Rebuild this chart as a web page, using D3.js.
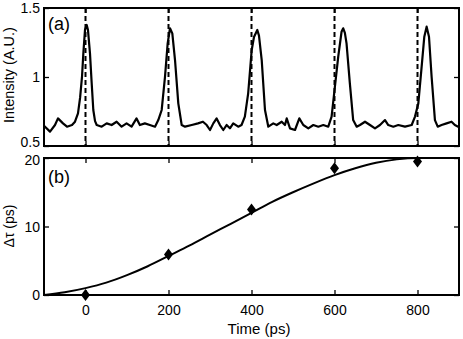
<!DOCTYPE html>
<html><head><meta charset="utf-8">
<script src="https://cdn.jsdelivr.net/npm/d3@7"></script>
<style>
body{margin:0;background:#fff;}
text{font-family:"Liberation Sans",Arial,Helvetica,sans-serif;fill:#000;}
</style></head><body>
<svg id="c" width="463" height="339"></svg>
<script>
// ---- data ----
const traceTime = [-100,-97.6,-85.5,-73.5,-66.3,-54.2,-44.6,-32.5,-25.3,-18.1,-13,-8.4,-5,-1.2,2.9,6,10.8,14.8,18.8,23,27,39,51,63,75,87,99,111,123,131,143,
155,167.5,175.4,183.6,191.6,198,203.6,209.2,215.7,223.6,231.8,239.8,255.9,271,283,292,300,308,316,324,332,340,348,356,368,376,384,392,400.5,406,414,
418,424.6,432.5,440.5,452.5,460.7,472.8,480.7,484.8,492.8,504.8,515.2,524.8,536.9,549,561,573,585,593,601,609,617,621,625,629,637,645,653.5,
661.4,673.5,685.5,697.6,709.6,721.7,729.6,741.7,753.7,769.9,786,794,802,810,816.4,822,827.7,834,842,848.7,858,870,882,890,898,900];
const traceValue = [0.645,0.640,0.604,0.652,0.700,0.664,0.640,0.652,0.676,0.737,0.850,1.002,1.180,1.341,1.377,1.340,1.171,0.960,0.761,0.680,0.652,0.640,0.664,0.652,0.676,0.640,0.664,0.640,0.700,0.652,0.664,
0.652,0.640,0.688,0.761,1.002,1.244,1.353,1.316,1.123,0.809,0.652,0.640,0.652,0.664,0.676,0.652,0.616,0.664,0.700,0.652,0.616,0.652,0.628,0.664,0.640,0.652,0.713,0.882,1.196,1.290,1.341,
1.300,1.123,0.761,0.640,0.664,0.652,0.676,0.652,0.700,0.628,0.616,0.700,0.652,0.628,0.652,0.640,0.652,0.640,0.713,0.930,1.147,1.328,1.353,1.320,1.244,0.954,0.688,0.640,
0.652,0.676,0.652,0.628,0.652,0.688,0.652,0.640,0.652,0.640,0.652,0.713,0.809,1.075,1.292,1.365,1.292,1.002,0.688,0.640,0.652,0.664,0.676,0.652,0.640,0.640];
const markerTimes = [0,200,400,600,800];
const delayTime = [-100,-50,0,50,100,150,200,250,300,350,400,450,500,550,600,650,700,750,800,850,900];
const delayFit  = [0,0.4,1.0,1.8,2.9,4.2,5.7,7.2,8.8,10.4,12.0,13.6,15.0,16.3,17.5,18.5,19.3,19.8,20,20,20];
const measTime  = [0,200,400,600,800];
const measDelay = [0,5.9,12.5,18.5,19.5];
const xTicks = [0,200,400,600,800];
const yTicksA = [0.5,1,1.5];
const yTicksB = [0,10,20];

// ---- layout ----
const svg = d3.select("#c");
const L = 44, R = 459;
const aTop = 8, aBot = 146, bTop = 158, bBot = 295;
const x = d3.scaleLinear().domain([-100,900]).range([L,R]);
const ya = d3.scaleLinear().domain([0.5,1.5]).range([aBot,aTop]);
const yb = d3.scaleLinear().domain([0,20]).range([bBot,bTop]);
const TL = 5;
// small label nudges so the two stacked labels at the panel joint do not collide
const labelShift = {"0.5":-4, "20":2};

function frame(y, top, bot, yTicks, showXLabels){
  const g = svg.append("g");
  g.append("g").attr("transform",`translate(0,${bot})`)
    .call(d3.axisBottom(x).tickValues(xTicks).tickSizeInner(-TL).tickSizeOuter(0).tickFormat(showXLabels?d3.format("d"):""))
    .call(s=>{s.select(".domain").remove(); s.selectAll("line").attr("stroke","#000").attr("stroke-width",1.3);
      s.selectAll("text").attr("font-size","14px").attr("dy","0").attr("y",20);});
  g.append("g").attr("transform",`translate(0,${top})`)
    .call(d3.axisTop(x).tickValues(xTicks).tickSizeInner(-TL).tickSizeOuter(0).tickFormat(""))
    .call(s=>{s.select(".domain").remove(); s.selectAll("line").attr("stroke","#000").attr("stroke-width",1.3);});
  g.append("g").attr("transform",`translate(${L},0)`)
    .call(d3.axisLeft(y).tickValues(yTicks).tickSizeInner(-TL).tickSizeOuter(0).tickFormat(d3.format("")))
    .call(s=>{s.select(".domain").remove(); s.selectAll("line").attr("stroke","#000").attr("stroke-width",1.3);
      s.selectAll("text").attr("font-size","14px").attr("x",-4)
        .attr("dy",function(){const t=d3.select(this).text(); return (0.35*14 + (labelShift[t]||0))+"px";});});
  g.append("g").attr("transform",`translate(${R},0)`)
    .call(d3.axisRight(y).tickValues(yTicks).tickSizeInner(-TL).tickSizeOuter(0).tickFormat(""))
    .call(s=>{s.select(".domain").remove(); s.selectAll("line").attr("stroke","#000").attr("stroke-width",1.3);});
  g.selectAll(".tick text").attr("fill","#000");
  svg.append("rect").attr("x",L).attr("y",top).attr("width",R-L).attr("height",bot-top)
    .attr("fill","none").attr("stroke","#000").attr("stroke-width",2);
}

// panel (a)
svg.selectAll(".dash").data(markerTimes).enter().append("line")
  .attr("x1",d=>x(d)).attr("x2",d=>x(d)).attr("y1",aTop).attr("y2",aBot)
  .attr("stroke","#000").attr("stroke-width",2).attr("stroke-dasharray","5,3");
const trace = traceTime.map((t,i)=>[t,traceValue[i]]);
svg.append("path").datum(trace)
  .attr("d",d3.line().x(d=>x(d[0])).y(d=>ya(d[1])))
  .attr("fill","none").attr("stroke","#000").attr("stroke-width",2.2).attr("stroke-linejoin","round");
frame(ya, aTop, aBot, yTicksA, false);
svg.append("text").attr("x",48).attr("y",29.5).attr("font-size","18px").text("(a)");

// panel (b)
const fit = delayTime.map((t,i)=>[t,delayFit[i]]);
svg.append("path").datum(fit)
  .attr("d",d3.line().x(d=>x(d[0])).y(d=>yb(d[1])).curve(d3.curveMonotoneX))
  .attr("fill","none").attr("stroke","#000").attr("stroke-width",2);
frame(yb, bTop, bBot, yTicksB, true);
svg.selectAll(".dia").data(measTime.map((t,i)=>[t,measDelay[i]])).enter().append("path")
  .attr("d",d=>{const cx=x(d[0]), cy=yb(d[1]); return `M${cx},${cy-6}L${cx+4.5},${cy}L${cx},${cy+6}L${cx-4.5},${cy}Z`;})
  .attr("fill","#000");
svg.append("text").attr("x",48).attr("y",183).attr("font-size","18px").text("(b)");

// axis titles
svg.append("text").attr("transform","translate(14,75) rotate(-90)").attr("text-anchor","middle")
  .attr("font-size","14.5px").text("Intensity (A.U.)");
svg.append("text").attr("transform","translate(14,226) rotate(-90)").attr("text-anchor","middle")
  .attr("font-size","14px").text("Δτ (ps)");
svg.append("text").attr("x",259).attr("y",334).attr("text-anchor","middle")
  .attr("font-size","15px").text("Time (ps)");
</script></body></html>
